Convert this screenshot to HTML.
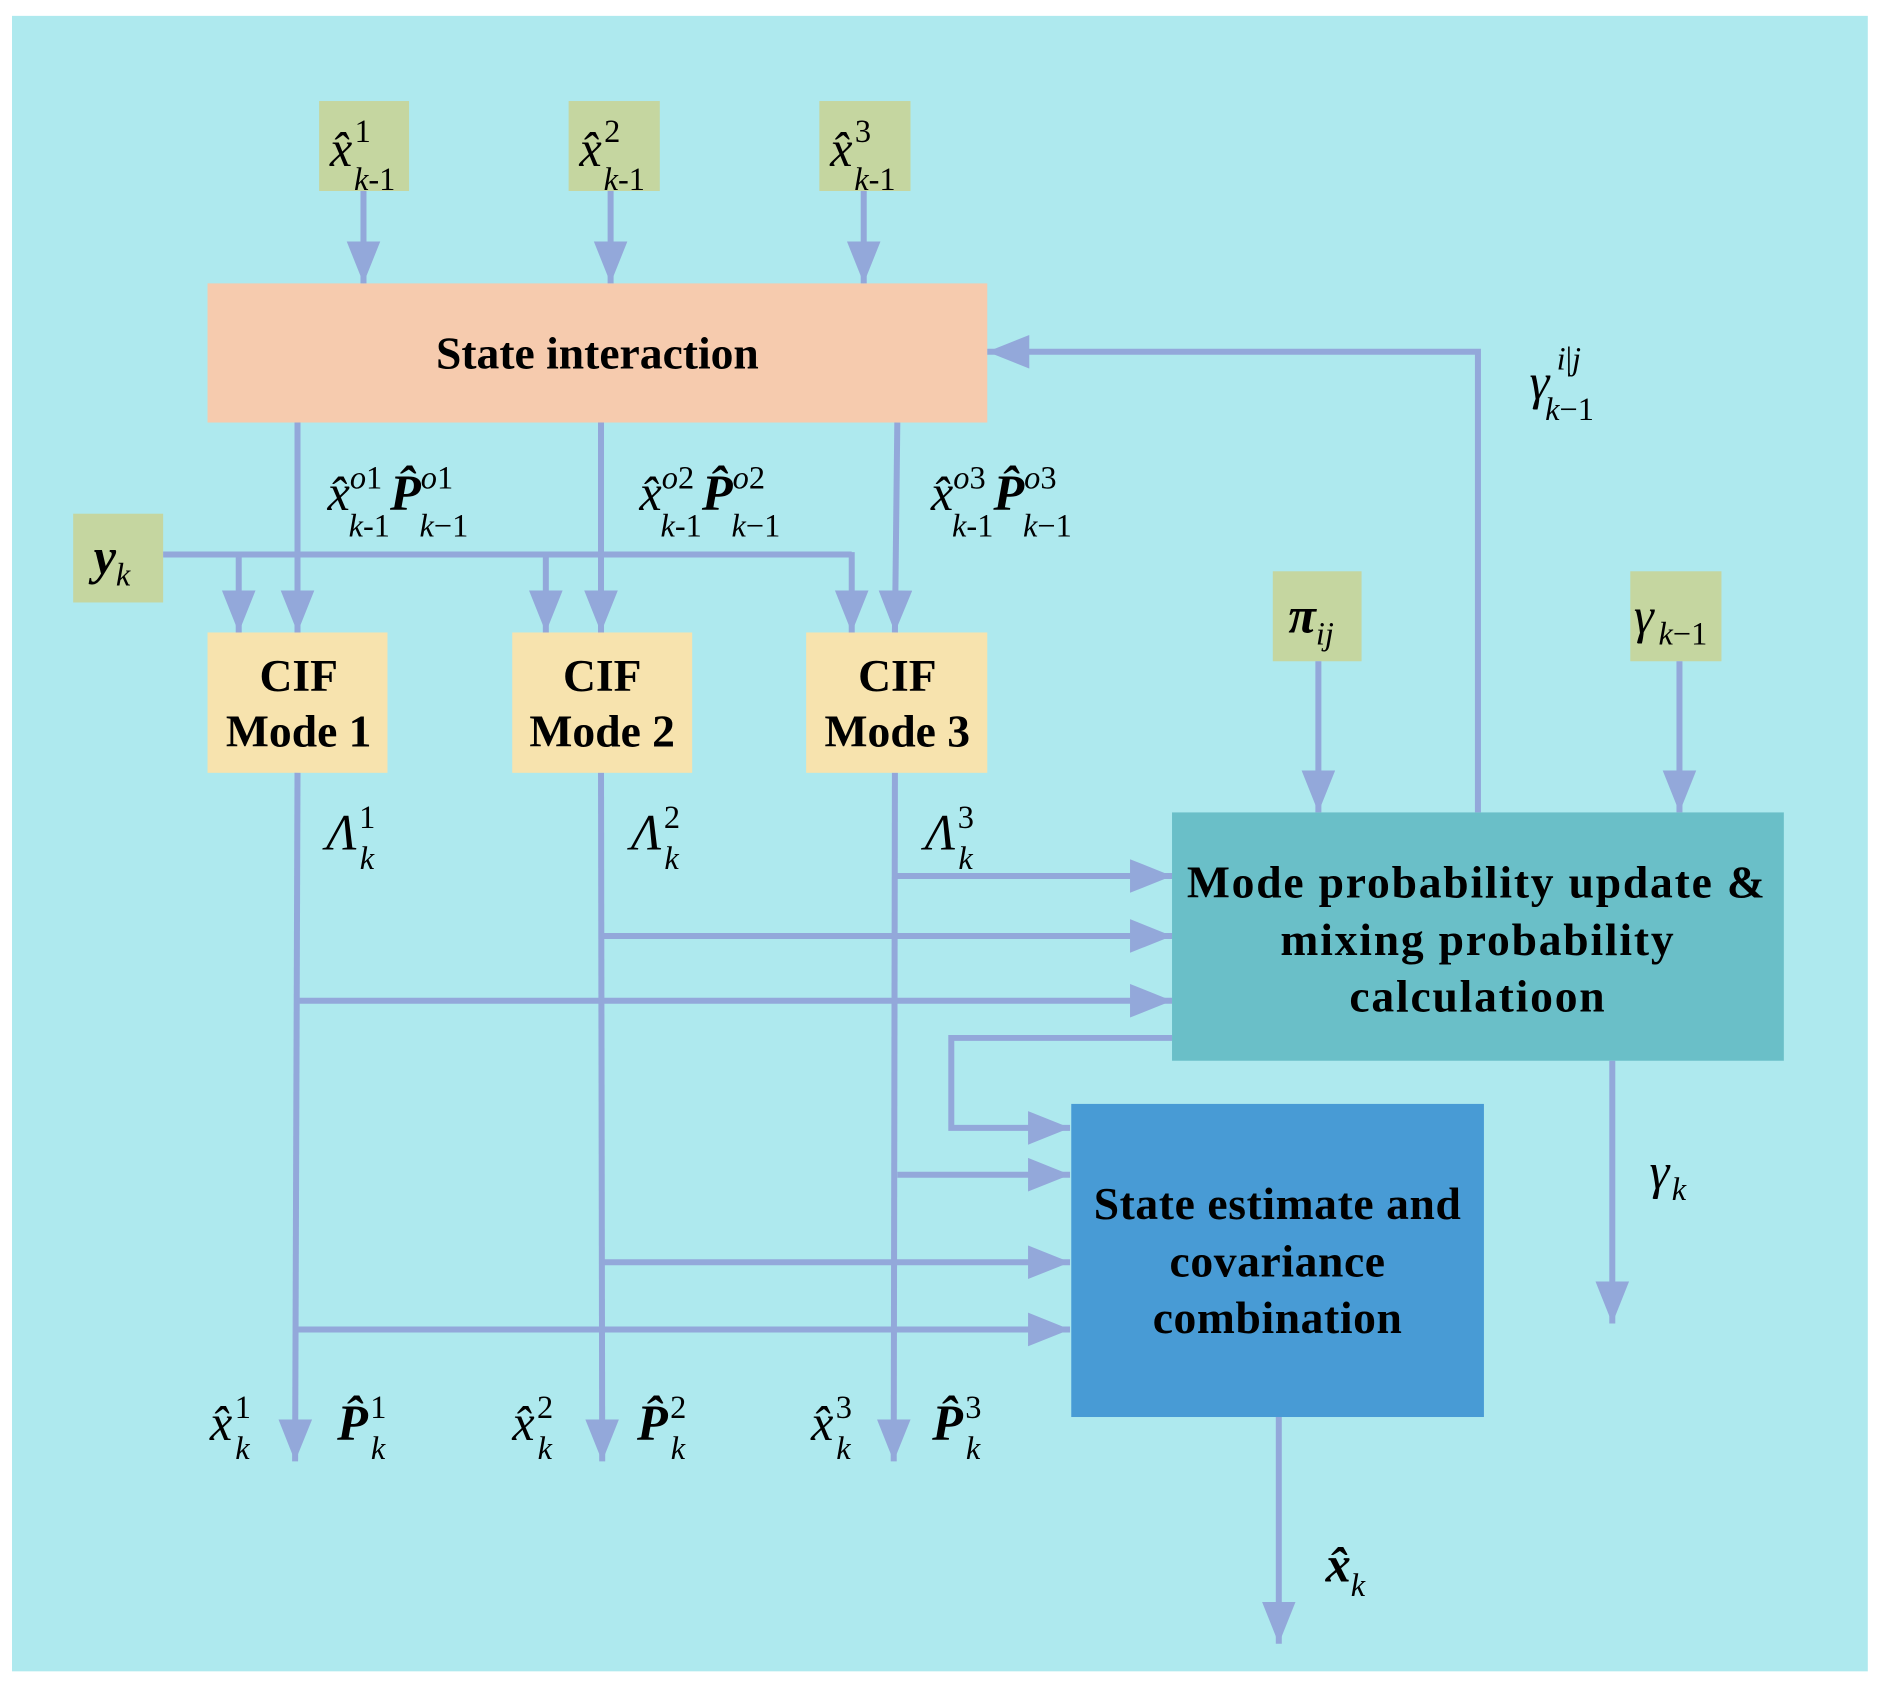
<!DOCTYPE html>
<html><head><meta charset="utf-8"><style>
html,body{margin:0;padding:0;background:#fff;}
svg{display:block;}
text{font-family:"Liberation Serif","DejaVu Serif",serif;fill:#000;}
.b{font-weight:bold;font-size:38px;}
.m{font-style:italic;font-size:42px;}
.s{font-style:italic;font-size:27px;}
.n{font-style:normal;font-size:27px;}
</style></head><body>
<svg width="1881" height="1686" viewBox="0 0 1568 1405" xmlns="http://www.w3.org/2000/svg">
<defs>
<marker id="a" markerUnits="userSpaceOnUse" markerWidth="36" markerHeight="30" refX="35" refY="14" orient="auto">
<path d="M0,0 L35,14 L0,28 z" fill="#93A8DA"/>
</marker>
</defs>
<rect x="0" y="0" width="1568" height="1405" fill="#fff"/>
<rect x="10" y="13" width="1547" height="1380" fill="#AEE9EE"/>

<rect x="266" y="84" width="75" height="75" fill="#C5D6A0"/>
<rect x="474" y="84" width="76" height="75" fill="#C5D6A0"/>
<rect x="683" y="84" width="76" height="75" fill="#C5D6A0"/>
<rect x="173" y="236" width="650" height="116" fill="#F6CBAE"/>
<rect x="61" y="428" width="75" height="74" fill="#C5D6A0"/>
<rect x="173" y="527" width="150" height="117" fill="#F7E3AE"/>
<rect x="427" y="527" width="150" height="117" fill="#F7E3AE"/>
<rect x="672" y="527" width="151" height="117" fill="#F7E3AE"/>
<rect x="1061" y="476" width="74" height="75" fill="#C5D6A0"/>
<rect x="1359" y="476" width="76" height="75" fill="#C5D6A0"/>
<rect x="977" y="677" width="510" height="207" fill="#6ABFC8"/>
<rect x="893" y="920" width="344" height="261" fill="#489BD5"/>

<g stroke="#93A8DA" stroke-width="5" fill="none">
<line x1="303" y1="159" x2="303" y2="236" marker-end="url(#a)"/>
<line x1="509" y1="159" x2="509" y2="236" marker-end="url(#a)"/>
<line x1="720" y1="159" x2="720" y2="236" marker-end="url(#a)"/>
<polyline points="1232,677 1232,293 823,293" marker-end="url(#a)"/>
<line x1="248" y1="352" x2="248" y2="527" marker-end="url(#a)"/>
<line x1="501" y1="352" x2="501" y2="527" marker-end="url(#a)"/>
<line x1="748" y1="352" x2="746" y2="527" marker-end="url(#a)"/>
<line x1="136" y1="462" x2="710" y2="462"/>
<line x1="199" y1="462" x2="199" y2="527" marker-end="url(#a)"/>
<line x1="455" y1="462" x2="455" y2="527" marker-end="url(#a)"/>
<line x1="710" y1="460" x2="710" y2="527" marker-end="url(#a)"/>
<line x1="1099" y1="551" x2="1099" y2="677" marker-end="url(#a)"/>
<line x1="1400" y1="551" x2="1400" y2="677" marker-end="url(#a)"/>
<line x1="248" y1="644" x2="246" y2="1218" marker-end="url(#a)"/>
<line x1="501" y1="644" x2="502" y2="1218" marker-end="url(#a)"/>
<line x1="746" y1="644" x2="745" y2="1218" marker-end="url(#a)"/>
<line x1="748" y1="730" x2="977" y2="730" marker-end="url(#a)"/>
<line x1="501" y1="780" x2="977" y2="780" marker-end="url(#a)"/>
<line x1="248" y1="834" x2="977" y2="834" marker-end="url(#a)"/>
<polyline points="977,865 793,865 793,940 892,940" marker-end="url(#a)"/>
<line x1="748" y1="979" x2="892" y2="979" marker-end="url(#a)"/>
<line x1="501" y1="1052" x2="892" y2="1052" marker-end="url(#a)"/>
<line x1="248" y1="1108" x2="892" y2="1108" marker-end="url(#a)"/>
<line x1="1344" y1="884" x2="1344" y2="1103" marker-end="url(#a)"/>
<line x1="1066" y1="1181" x2="1066" y2="1370" marker-end="url(#a)"/>
</g>

<text class="b" x="498" y="307" text-anchor="middle">State interaction</text>
<text class="b" x="249" y="576" text-anchor="middle">CIF</text>
<text class="b" x="249" y="622" text-anchor="middle">Mode 1</text>
<text class="b" x="502" y="576" text-anchor="middle">CIF</text>
<text class="b" x="502" y="622" text-anchor="middle">Mode 2</text>
<text class="b" x="748" y="576" text-anchor="middle">CIF</text>
<text class="b" x="748" y="622" text-anchor="middle">Mode 3</text>
<text class="b" x="1231" y="748" text-anchor="middle" font-size="36" letter-spacing="1.5">Mode probability update &amp;</text>
<text class="b" x="1232" y="796" text-anchor="middle" font-size="36" letter-spacing="1.5">mixing probability</text>
<text class="b" x="1232" y="843" text-anchor="middle" font-size="36" letter-spacing="1.5">calculatioon</text>
<text class="b" x="1065" y="1016" text-anchor="middle" letter-spacing="0.5">State estimate and</text>
<text class="b" x="1065" y="1064" text-anchor="middle" letter-spacing="0.5">covariance</text>
<text class="b" x="1065" y="1111" text-anchor="middle" letter-spacing="0.5">combination</text>

<text x="275" y="138"><tspan class="m">x̂</tspan><tspan class="n" dx="2" dy="-20">1</tspan><tspan class="s" dx="-14" dy="40">k</tspan><tspan class="n">-1</tspan></text>
<text x="483" y="138"><tspan class="m">x̂</tspan><tspan class="n" dx="2" dy="-20">2</tspan><tspan class="s" dx="-14" dy="40">k</tspan><tspan class="n">-1</tspan></text>
<text x="692" y="138"><tspan class="m">x̂</tspan><tspan class="n" dx="2" dy="-20">3</tspan><tspan class="s" dx="-14" dy="40">k</tspan><tspan class="n">-1</tspan></text>

<text x="78" y="478"><tspan class="m" font-weight="bold">y</tspan><tspan class="s" dy="10">k</tspan></text>

<text x="273" y="425"><tspan class="m">x̂</tspan><tspan class="s" dy="-18">o</tspan><tspan class="n">1</tspan><tspan class="s" dx="-28" dy="40">k</tspan><tspan class="n">-1</tspan><tspan class="m" font-weight="bold" dy="-22">P̂</tspan><tspan class="s" dy="-18">o</tspan><tspan class="n">1</tspan><tspan class="s" dx="-28" dy="40">k</tspan><tspan class="n">−1</tspan></text>
<text x="533" y="425"><tspan class="m">x̂</tspan><tspan class="s" dy="-18">o</tspan><tspan class="n">2</tspan><tspan class="s" dx="-28" dy="40">k</tspan><tspan class="n">-1</tspan><tspan class="m" font-weight="bold" dy="-22">P̂</tspan><tspan class="s" dy="-18">o</tspan><tspan class="n">2</tspan><tspan class="s" dx="-28" dy="40">k</tspan><tspan class="n">−1</tspan></text>
<text x="776" y="425"><tspan class="m">x̂</tspan><tspan class="s" dy="-18">o</tspan><tspan class="n">3</tspan><tspan class="s" dx="-28" dy="40">k</tspan><tspan class="n">-1</tspan><tspan class="m" font-weight="bold" dy="-22">P̂</tspan><tspan class="s" dy="-18">o</tspan><tspan class="n">3</tspan><tspan class="s" dx="-28" dy="40">k</tspan><tspan class="n">−1</tspan></text>

<text x="1275" y="332"><tspan class="m">γ</tspan><tspan class="s" font-size="22" dx="6" dy="-24">i</tspan><tspan class="n" font-size="22">|</tspan><tspan class="s" font-size="22">j</tspan><tspan class="s" font-size="22" dx="-30" dy="42">k</tspan><tspan class="n" font-size="22">−1</tspan></text>

<text x="1074" y="527"><tspan class="m" font-weight="bold" font-style="normal">π</tspan><tspan class="s" font-size="24" dy="10">ij</tspan></text>
<text x="1362" y="527"><tspan class="m">γ</tspan><tspan class="s" dx="4" dy="10">k</tspan><tspan class="n">−1</tspan></text>

<text x="272" y="708"><tspan class="m" font-style="normal">Λ</tspan><tspan class="n" dx="2" dy="-18">1</tspan><tspan class="s" dx="-13" dy="34">k</tspan></text>
<text x="526" y="708"><tspan class="m" font-style="normal">Λ</tspan><tspan class="n" dx="2" dy="-18">2</tspan><tspan class="s" dx="-13" dy="34">k</tspan></text>
<text x="771" y="708"><tspan class="m" font-style="normal">Λ</tspan><tspan class="n" dx="2" dy="-18">3</tspan><tspan class="s" dx="-13" dy="34">k</tspan></text>

<text x="1375" y="990"><tspan class="m">γ</tspan><tspan class="s" dx="2" dy="10">k</tspan></text>

<text x="175" y="1200"><tspan class="m">x̂</tspan><tspan class="n" dx="2" dy="-18">1</tspan><tspan class="s" dx="-13" dy="34">k</tspan></text>
<text x="281" y="1200"><tspan class="m" font-weight="bold">P̂</tspan><tspan class="n" dx="2" dy="-18">1</tspan><tspan class="s" dx="-13" dy="34">k</tspan></text>
<text x="427" y="1200"><tspan class="m">x̂</tspan><tspan class="n" dx="2" dy="-18">2</tspan><tspan class="s" dx="-13" dy="34">k</tspan></text>
<text x="531" y="1200"><tspan class="m" font-weight="bold">P̂</tspan><tspan class="n" dx="2" dy="-18">2</tspan><tspan class="s" dx="-13" dy="34">k</tspan></text>
<text x="676" y="1200"><tspan class="m">x̂</tspan><tspan class="n" dx="2" dy="-18">3</tspan><tspan class="s" dx="-13" dy="34">k</tspan></text>
<text x="777" y="1200"><tspan class="m" font-weight="bold">P̂</tspan><tspan class="n" dx="2" dy="-18">3</tspan><tspan class="s" dx="-13" dy="34">k</tspan></text>

<text x="1105" y="1318"><tspan class="m" font-weight="bold">x̂</tspan><tspan class="s" dy="12">k</tspan></text>
</svg>
</body></html>
